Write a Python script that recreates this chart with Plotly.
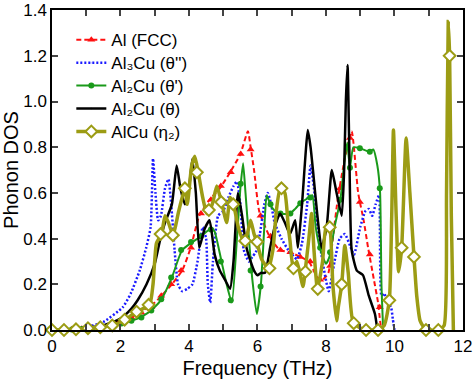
import plotly.graph_objects as go

# ---------------- data ----------------
# Al (FCC)
al_f = [0, 0.5, 1.0, 1.5, 2.0, 2.5, 2.8, 3.0, 3.2, 3.5, 3.8, 4.05, 4.3, 4.6, 4.9, 5.2, 5.5, 5.72, 5.8, 5.9,
        6.05, 6.35, 6.65, 6.95, 7.25, 7.5, 7.75, 7.9, 8.07, 8.2, 8.35, 8.55, 8.75, 8.94, 9.1, 9.23, 9.4, 9.52, 9.58, 9.62]
al_v = [0, 0.002, 0.008, 0.02, 0.04, 0.07, 0.1, 0.12, 0.15, 0.2, 0.26, 0.36, 0.5, 0.57, 0.62, 0.69, 0.77, 0.87, 0.8, 0.7,
        0.52, 0.41, 0.35, 0.34, 0.32, 0.3, 0.23, 0.22, 0.25, 0.4, 0.58, 0.75, 0.87, 0.6, 0.48, 0.36, 0.22, 0.12, 0.04, 0]
al_mf = [0, 0.29, 0.58, 0.87, 1.16, 1.45, 1.74, 2.03, 2.32, 2.61, 2.9, 3.19, 3.48, 3.77, 4.06, 4.35, 4.64, 4.93,
         5.22, 5.51, 5.8, 6.09, 6.38, 6.67, 6.96, 7.25, 7.54, 7.83, 8.12, 8.41, 8.7, 8.99, 9.28, 9.57]
al_mv = [0, 0, 0.003, 0.006, 0.01, 0.018, 0.027, 0.04, 0.055, 0.075, 0.1, 0.15, 0.2, 0.26, 0.36, 0.51, 0.57, 0.63,
         0.69, 0.77, 0.79, 0.5, 0.41, 0.35, 0.34, 0.32, 0.3, 0.22, 0.28, 0.62, 0.84, 0.56, 0.33, 0.1]

# Al3Cu (theta'')
a3_f = [0, 0.5, 1.0, 1.5, 2.07, 2.3, 2.56, 2.75, 2.88, 2.95, 3.02, 3.1, 3.18, 3.3, 3.4, 3.48, 3.58, 3.68, 3.8, 3.95,
        4.1, 4.25, 4.4, 4.5, 4.55, 4.62, 4.7, 4.85, 5.0, 5.15, 5.3, 5.4, 5.5, 5.6, 5.75, 5.85, 5.95, 6.07, 6.2, 6.3,
        6.4, 6.5, 6.7, 6.9, 7.15, 7.3, 7.45, 7.55, 7.65, 7.75, 7.9, 8.08, 8.25, 8.4, 8.55, 8.7, 8.82, 9.0, 9.15,
        9.25, 9.35, 9.45, 9.55, 9.62, 9.7, 9.8, 9.9, 9.95, 10.0]
a3_v = [0, 0.003, 0.012, 0.035, 0.1, 0.16, 0.26, 0.36, 0.45, 0.75, 0.6, 0.48, 0.5, 0.62, 0.66, 0.55, 0.35, 0.2, 0.17, 0.18,
        0.2, 0.3, 0.45, 0.4, 0.2, 0.12, 0.3, 0.5, 0.52, 0.58, 0.63, 0.65, 0.55, 0.35, 0.3, 0.32, 0.34, 0.42, 0.55, 0.6,
        0.55, 0.47, 0.4, 0.35, 0.31, 0.38, 0.55, 0.72, 0.62, 0.45, 0.3, 0.17, 0.3, 0.4, 0.42, 0.37, 0.33, 0.45, 0.52,
        0.53, 0.5, 0.55, 0.59, 0.15, 0.16, 0.12, 0.1, 0.05, 0]

# Al2Cu (theta')
a2p_f = [0, 0.5, 1.0, 1.5, 2.0, 2.5, 2.8, 3.0, 3.2, 3.5, 3.8, 4.1, 4.35, 4.66, 4.75, 4.95, 5.1, 5.25, 5.4, 5.5,
         5.58, 5.65, 5.75, 5.85, 5.98, 6.1, 6.2, 6.27, 6.4, 6.6, 6.95, 7.1, 7.25, 7.5, 7.6, 7.7, 7.82, 8.0, 8.1,
         8.25, 8.42, 8.55, 8.62, 8.7, 8.8, 9.0, 9.28, 9.38, 9.5, 9.58, 9.62, 9.67]
a2p_v = [0, 0.001, 0.005, 0.013, 0.028, 0.05, 0.075, 0.1, 0.135, 0.23, 0.35, 0.385, 0.41, 0.445, 0.43, 0.3, 0.2, 0.12,
         0.4, 0.62, 0.73, 0.6, 0.4, 0.22, 0.07, 0.2, 0.45, 0.59, 0.54, 0.51, 0.51, 0.53, 0.555, 0.58, 0.59, 0.45,
         0.36, 0.29, 0.32, 0.45, 0.57, 0.75, 0.82, 0.71, 0.8, 0.795, 0.78, 0.79, 0.72, 0.6, 0.2, 0]
a2p_mf = [0, 0.29, 0.58, 0.87, 1.16, 1.45, 1.74, 2.03, 2.32, 2.61, 2.9, 3.19, 3.48, 3.77, 4.06, 4.35, 4.64, 4.93,
          5.22, 5.51, 5.8, 6.09, 6.38, 6.67, 6.96, 7.25, 7.54, 7.83, 8.12, 8.41, 8.7, 8.99, 9.28, 9.57]
a2p_mv = [0, 0, 0.002, 0.004, 0.007, 0.012, 0.018, 0.028, 0.04, 0.055, 0.085, 0.135, 0.23, 0.35, 0.385, 0.41, 0.44,
          0.3, 0.13, 0.64, 0.26, 0.19, 0.55, 0.51, 0.51, 0.555, 0.58, 0.36, 0.34, 0.57, 0.71, 0.795, 0.78, 0.62]

# Al2Cu (theta)
a2_f = [0, 0.5, 1.0, 1.5, 2.0, 2.3, 2.5, 2.76, 3.0, 3.15, 3.3, 3.5, 3.64, 3.75, 3.88, 4.0, 4.1, 4.2, 4.3, 4.45, 4.6,
        4.75, 4.9, 5.05, 5.2, 5.3, 5.43, 5.55, 5.68, 5.8, 5.9, 6.0, 6.1, 6.22, 6.37, 6.5, 6.66, 6.8, 6.95, 7.1, 7.18,
        7.3, 7.47, 7.55, 7.62, 7.75, 7.87, 8.02, 8.17, 8.31, 8.46, 8.53, 8.58, 8.63, 8.68, 8.75, 8.9, 9.08, 9.25,
        9.43, 9.5]
a2_v = [0, 0.003, 0.01, 0.02, 0.05, 0.09, 0.13, 0.2, 0.29, 0.39, 0.47, 0.55, 0.72, 0.62, 0.55, 0.62, 0.75, 0.6, 0.36,
        0.44, 0.48, 0.33, 0.26, 0.22, 0.18, 0.3, 0.6, 0.5, 0.36, 0.3, 0.26, 0.24, 0.25, 0.25, 0.36, 0.45, 0.51, 0.47,
        0.42, 0.48, 0.36, 0.55, 0.875, 0.8, 0.7, 0.5, 0.36, 0.45, 0.7, 0.6, 0.5, 0.7, 1.0, 1.16, 0.8, 0.35, 0.26,
        0.24, 0.15, 0.07, 0]

# AlCu (eta2)
ac_f = [0, 0.35, 0.7, 1.05, 1.4, 1.78, 2.13, 2.47, 2.85, 2.95, 3.05, 3.2, 3.3, 3.4, 3.53, 3.6, 3.7, 3.88, 3.95, 4.08,
        4.17, 4.27, 4.4, 4.52, 4.61, 4.7, 4.81, 4.95, 5.1, 5.2, 5.3, 5.44, 5.59, 5.7, 5.8, 5.9, 5.98, 6.12, 6.32,
        6.45, 6.55, 6.66, 6.8, 6.9, 6.95, 7.04, 7.15, 7.33, 7.39, 7.5, 7.58, 7.65, 7.75, 7.9, 8.0, 8.1, 8.2, 8.31,
        8.36, 8.46, 8.55, 8.65, 8.8, 9.14, 9.48, 9.7, 9.85, 9.92, 9.97, 10.05, 10.12, 10.21, 10.34, 10.45, 10.57,
        10.65, 10.75, 10.92, 11.28, 11.45, 11.52, 11.57, 11.61, 11.66, 11.72]
ac_v = [0, 0, 0.003, 0.008, 0.012, 0.02, 0.045, 0.08, 0.11, 0.2, 0.38, 0.42, 0.5, 0.47, 0.415, 0.45, 0.52, 0.62, 0.55,
        0.72, 0.76, 0.69, 0.58, 0.51, 0.525, 0.56, 0.63, 0.56, 0.47, 0.58, 0.55, 0.45, 0.39, 0.42, 0.48, 0.42, 0.386,
        0.31, 0.27, 0.35, 0.52, 0.62, 0.6, 0.45, 0.39, 0.27, 0.3, 0.19, 0.255, 0.4, 0.51, 0.35, 0.18, 0.3, 0.45,
        0.45, 0.2, 0.04, 0.1, 0.2, 0.37, 0.25, 0.03, 0, 0, 0.02, 0.13, 0.5, 0.875, 0.5, 0.255, 0.36, 0.84, 0.6, 0.32,
        0.15, 0.04, 0, 0, 0.02, 0.6, 1.35, 1.2, 0.5, 0]
ac_mf = [0, 0.35, 0.7, 1.05, 1.41, 1.76, 2.12, 2.47, 2.82, 3.17, 3.53, 3.88, 4.23, 4.58, 4.94, 5.29, 5.64, 5.99,
         6.35, 6.7, 7.05, 7.4, 7.76, 8.11, 8.46, 8.81, 9.17, 9.52, 9.85, 10.21, 10.57, 10.92, 11.28, 11.61]
ac_mv = [0, 0, 0.003, 0.008, 0.012, 0.02, 0.045, 0.08, 0.11, 0.42, 0.415, 0.62, 0.69, 0.525, 0.56, 0.55, 0.39, 0.386,
         0.27, 0.62, 0.27, 0.255, 0.18, 0.45, 0.2, 0.03, 0, 0, 0.13, 0.36, 0.32, 0, 0, 1.2]

names = ["Al (FCC)", "Al₃Cu (θ'')", "Al₂Cu (θ')", "Al₂Cu (θ)", "AlCu (η₂)"]

x_ticks = list(range(0, 13))
x_labels = [str(v) if v % 2 == 0 else "" for v in x_ticks]
y_ticks = [0.0, 0.2, 0.4, 0.6, 0.8, 1.0, 1.2, 1.4]
y_labels = ["0.0", "0.2", "0.4", "0.6", "0.8", "1.0", "1.2", "1.4"]

# ---------------- styles ----------------
RED = "#ff1010"
BLUE = "#1a1aff"
GREEN = "#1a9a1a"
BLACK = "#000000"
OLIVE = "#9c9c14"

fig = go.Figure()
SM = 0.5

fig.add_trace(go.Scatter(x=al_f, y=al_v, mode="lines", line=dict(color=RED, width=2, dash="5px,3px", shape="spline", smoothing=SM), showlegend=False))
fig.add_trace(go.Scatter(x=al_mf, y=al_mv, mode="markers", cliponaxis=False, marker=dict(symbol="triangle-up", size=7, color=RED), showlegend=False))
fig.add_trace(go.Scatter(x=a3_f, y=a3_v, mode="lines", line=dict(color=BLUE, width=2.5, dash="2px,2px", shape="spline", smoothing=SM), showlegend=False))
fig.add_trace(go.Scatter(x=a2p_f, y=a2p_v, mode="lines", line=dict(color=GREEN, width=2, shape="spline", smoothing=SM), showlegend=False))
fig.add_trace(go.Scatter(x=a2p_mf, y=a2p_mv, mode="markers", cliponaxis=False, marker=dict(symbol="circle", size=6, color=GREEN), showlegend=False))
fig.add_trace(go.Scatter(x=a2_f, y=a2_v, mode="lines", line=dict(color=BLACK, width=2.5, shape="spline", smoothing=SM), showlegend=False))
fig.add_trace(go.Scatter(x=ac_f, y=ac_v, mode="lines", line=dict(color=OLIVE, width=3.5, shape="spline", smoothing=SM), showlegend=False))
fig.add_trace(go.Scatter(x=ac_mf, y=ac_mv, mode="markers", cliponaxis=False, marker=dict(symbol="diamond", size=9, color="white", line=dict(color=OLIVE, width=2)), showlegend=False))

leg = [
    (names[0], dict(color=RED, width=2, dash="5px,3px"), dict(symbol="triangle-up", size=7, color=RED)),
    (names[1], dict(color=BLUE, width=2.5, dash="2px,2px"), dict(size=0.1, color=BLUE, opacity=0)),
    (names[2], dict(color=GREEN, width=2), dict(symbol="circle", size=6, color=GREEN)),
    (names[3], dict(color=BLACK, width=2.5), dict(size=0.1, color=BLACK, opacity=0)),
    (names[4], dict(color=OLIVE, width=3.5), dict(symbol="diamond", size=9, color="white", line=dict(color=OLIVE, width=2))),
]
legend_keys = ["legend", "legend2", "legend3", "legend4", "legend5"]
for (nm, ln, mk), key in zip(leg, legend_keys):
    fig.add_trace(go.Scatter(x=[None], y=[None], mode="lines+markers", name=nm, line=ln, marker=mk, legend=key))

FONT = "Liberation Sans, Arial, sans-serif"
leg_y = [0.906, 0.834, 0.7625, 0.691, 0.619]
legend_layout = {}
for key, yy in zip(legend_keys, leg_y):
    legend_layout[key] = dict(x=0.047, y=yy, xanchor="left", yanchor="middle", bgcolor="rgba(0,0,0,0)",
                              font=dict(size=17, family=FONT, color="black"), itemwidth=30, borderwidth=0)

fig.update_layout(
    template="none",
    width=474, height=379,
    margin=dict(l=52, r=11, t=10, b=49, autoexpand=False),
    paper_bgcolor="white", plot_bgcolor="white",
    font=dict(family=FONT, size=17, color="black"),
    showlegend=True,
    **legend_layout,
)
fig.update_xaxes(range=[0, 12.001], tickvals=x_ticks, ticktext=x_labels, ticks="inside", ticklen=6, tickwidth=1.5,
                 showline=True, linecolor="black", linewidth=1.5, mirror="ticks", showgrid=False, zeroline=False,
                 automargin=False, ticklabeloverflow="allow", title=dict(text="Frequency (THz)"), tickfont=dict(size=17))
fig.update_yaxes(range=[0, 1.4005], tickvals=y_ticks, ticktext=y_labels, ticks="inside", ticklen=6, tickwidth=1.5,
                 showline=True, linecolor="black", linewidth=1.5, mirror="ticks", showgrid=False, zeroline=False,
                 automargin=False, ticklabeloverflow="allow", title=dict(text="Phonon DOS"), tickfont=dict(size=17))

fig.write_html("out.html", config={"displayModeBar": False},
               post_script="document.body.style.margin='0';document.body.style.overflow='hidden';")
